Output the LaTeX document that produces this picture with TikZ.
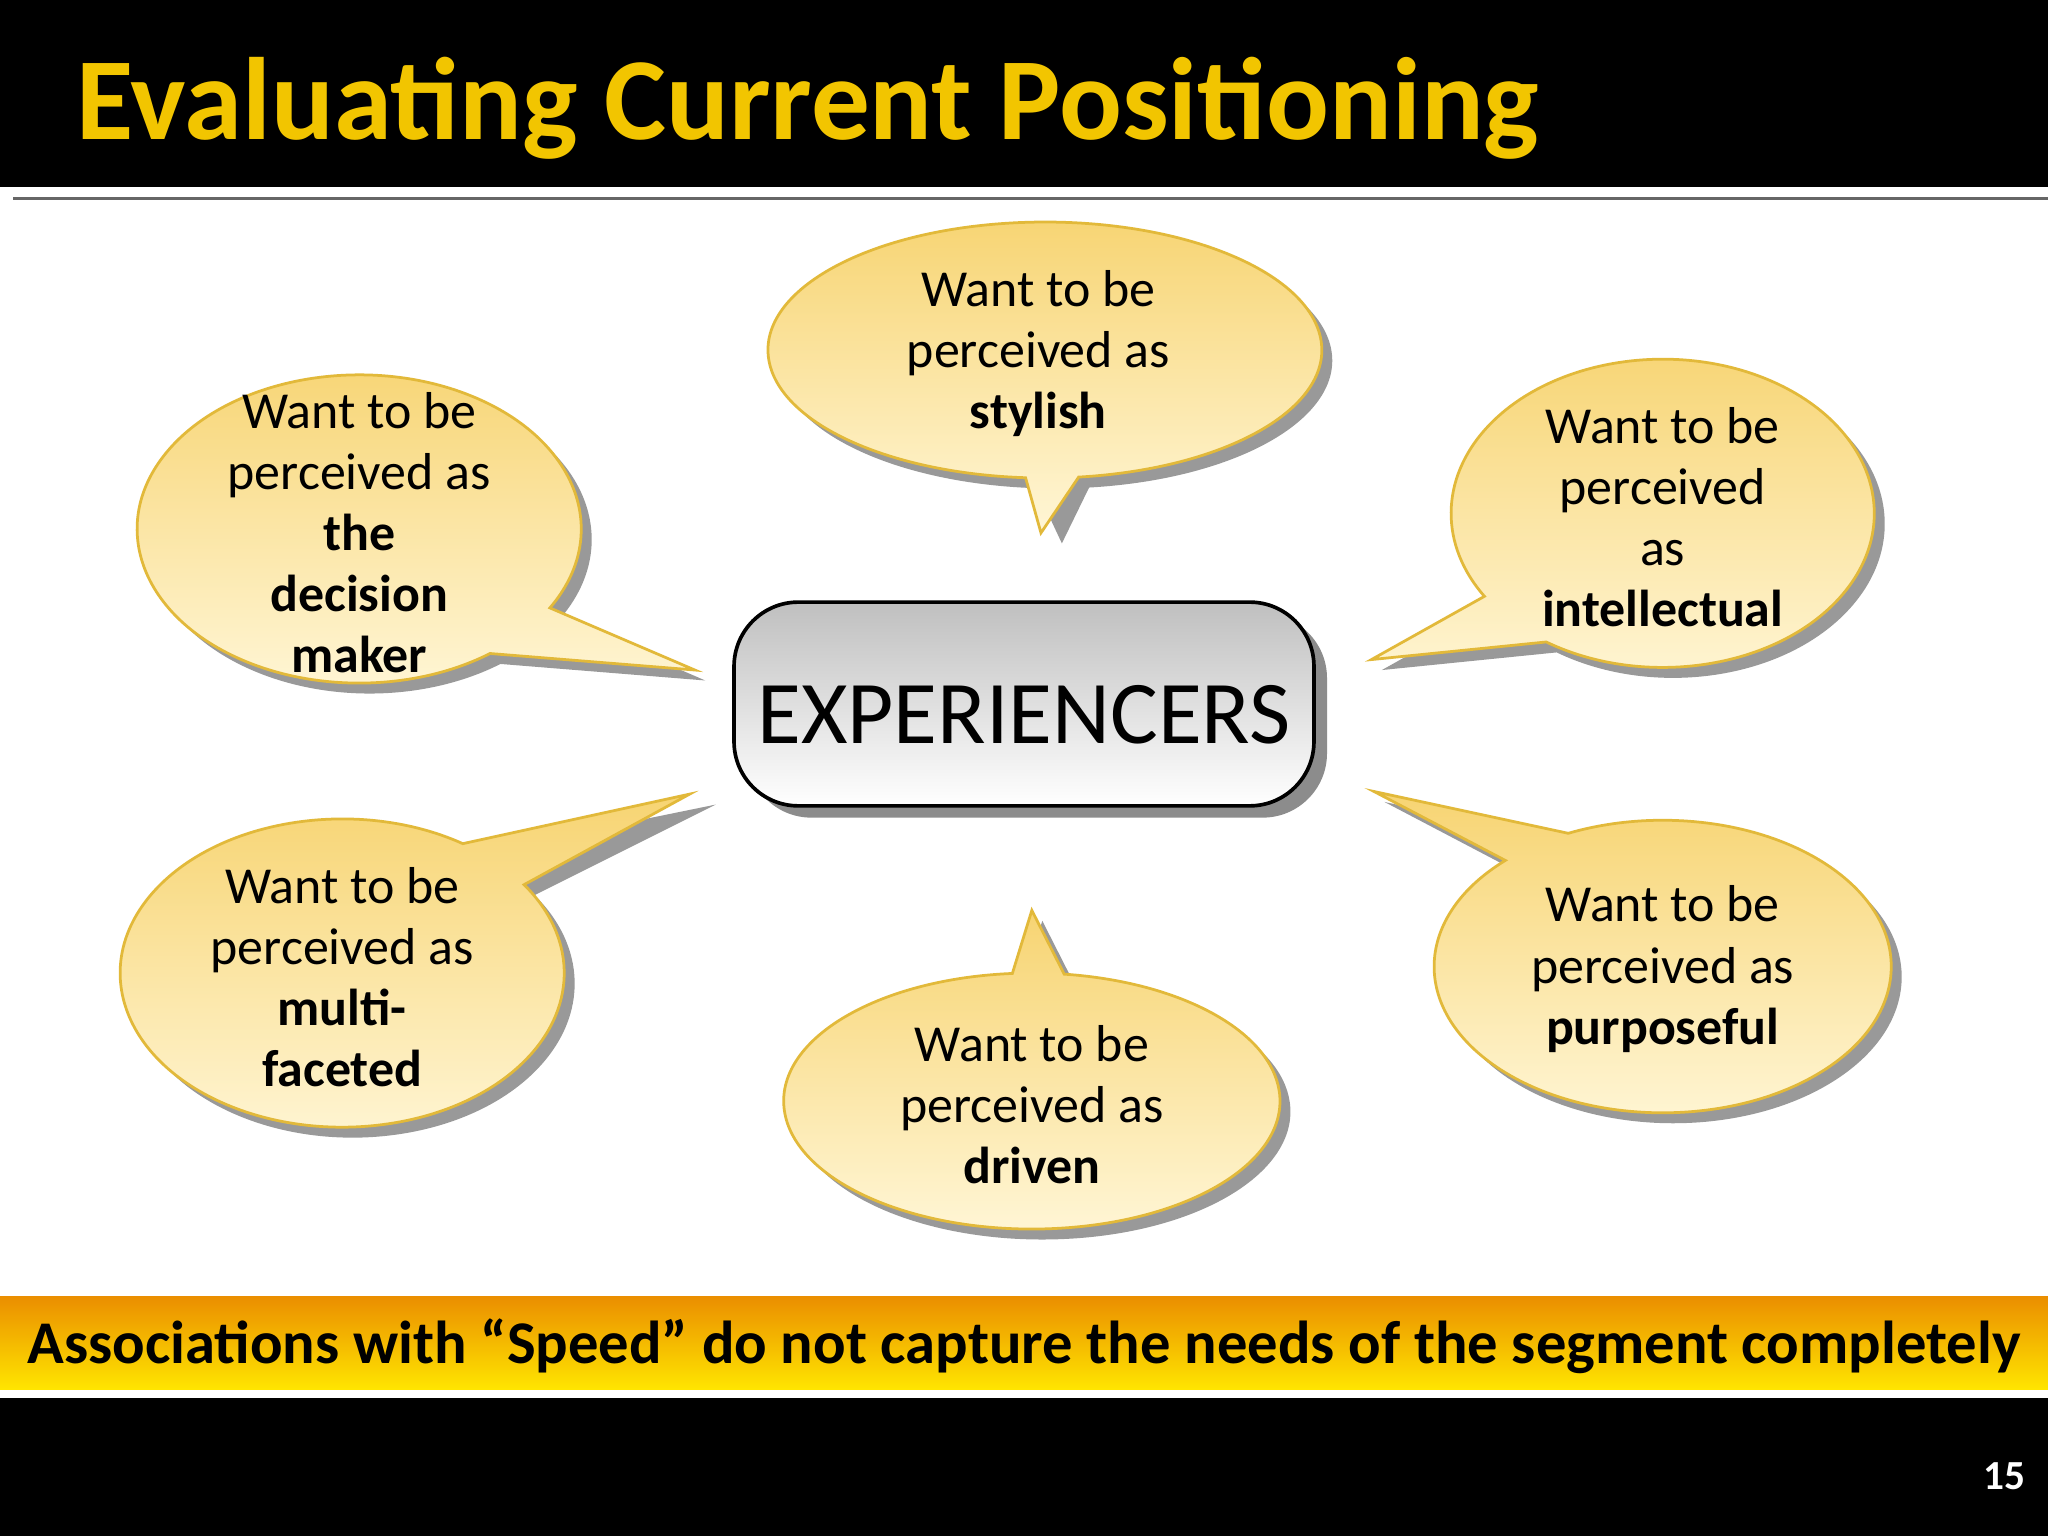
\documentclass[tikz,border=0pt]{standalone}
\usepackage{fontspec}
\setmainfont{Carlito}
\begin{document}
\begin{tikzpicture}[x=0.01cm,y=-0.01cm,
  bub/.style={top color=bubtop,bottom color=bubbot,draw=bubline,line width=0.6pt},
  shad/.style={fill=black!40,xshift=0.08cm,yshift=-0.08cm},
  btxt/.style={align=center,font=\fontsize{11.3}{13.3}\selectfont,inner sep=0pt}]
\definecolor{bubtop}{HTML}{F7D472}
\definecolor{bubbot}{HTML}{FFF6D6}
\definecolor{bubline}{HTML}{E2B93A}
\definecolor{titleyel}{HTML}{F2C500}
\useasboundingbox (0,0) rectangle (1568,1176);
\fill[white] (0,0) rectangle (1568,1176);
\fill[black] (0,0) rectangle (1568,143);
\node[font=\fontsize{25.5}{28}\selectfont\bfseries,text=titleyel,anchor=west,inner sep=0pt] (title) at (58,83) {Evaluating Current Positioning};
\draw[black!60,line width=0.8pt] (10,152) -- (1568,152);
% 1 top
\fill[shad] (800,268) ++(277:212 and -98) arc[start angle=277,end angle=626,x radius=212,y radius=-98] -- (805,408) -- cycle;
\path[bub] (800,268) ++(277:212 and -98) arc[start angle=277,end angle=626,x radius=212,y radius=-98] -- (797,408) -- cycle;
% 2 upper left
\fill[shad] (275,405) ++(-30.8:170 and -118) arc[start angle=-30.8,end angle=306.1,x radius=170,y radius=-118] -- (532,513) -- cycle;
\path[bub] (275,405) ++(-30.8:170 and -118) arc[start angle=-30.8,end angle=306.1,x radius=170,y radius=-118] -- (532,513) -- cycle;
% 3 upper right
\fill[shad] (1273,393) ++(236.6:162 and -118) arc[start angle=236.6,end angle=572.6,x radius=162,y radius=-118] -- (1050,505) -- cycle;
\path[bub] (1273,393) ++(236.6:162 and -118) arc[start angle=236.6,end angle=572.6,x radius=162,y radius=-118] -- (1050,505) -- cycle;
% 4 lower left
\fill[shad] (262,745) ++(57.1:170 and -118) arc[start angle=57.1,end angle=395,x radius=170,y radius=-118] -- (540,608) -- cycle;
\path[bub] (262,745) ++(57.1:170 and -118) arc[start angle=57.1,end angle=395,x radius=170,y radius=-118] -- (528,608) -- cycle;
% 5 bottom
\fill[shad] (790,843) ++(94.5:190 and -98) arc[start angle=94.5,end angle=442.5,x radius=190,y radius=-98] -- (790,697) -- cycle;
\path[bub] (790,843) ++(94.5:190 and -98) arc[start angle=94.5,end angle=442.5,x radius=190,y radius=-98] -- (790,697) -- cycle;
% 6 lower right
\fill[shad] (1273,740) ++(133.5:175 and -112) arc[start angle=133.5,end angle=474.4,x radius=175,y radius=-112] -- (1052,606) -- cycle;
\path[bub] (1273,740) ++(133.5:175 and -112) arc[start angle=133.5,end angle=474.4,x radius=175,y radius=-112] -- (1052,606) -- cycle;
% center box
\fill[black!45,rounded corners=14] (572,470) rectangle (1016,626);
\shade[top color=black!25,bottom color=white,draw=black,line width=0.8pt,rounded corners=14] (562,461) rectangle (1006,617);
\node[font=\fontsize{19.5}{22}\selectfont,inner sep=0pt] (exp) at (784,547) {EXPERIENCERS};
% texts
\node[btxt] (t1) at (795,271) {Want to be\\perceived as\\\textbf{stylish}};
\node[btxt] (t2) at (275,408) {Want to be\\perceived as\\\textbf{the}\\\textbf{decision}\\\textbf{maker}};
\node[btxt] (t3) at (1273,396) {Want to be\\perceived\\as\\\textbf{intellectual}};
\node[btxt] (t4) at (262,748) {Want to be\\perceived as\\\textbf{multi-}\\\textbf{faceted}};
\node[btxt] (t5) at (790,846) {Want to be\\perceived as\\\textbf{driven}};
\node[btxt] (t6) at (1273,742) {Want to be\\perceived as\\\textbf{purposeful}};
% banner
\shade[top color=black!10!orange!80!yellow,bottom color=yellow!80!orange] (0,993) rectangle (1568,1064);
\node[font=\fontsize{13.2}{15}\selectfont\bfseries,inner sep=0pt] (ban) at (784,1031) {Associations with “Speed” do not capture the needs of the segment completely};
\fill[black] (0,1070) rectangle (1568,1176);
\node[font=\fontsize{9}{10}\selectfont\bfseries,text=white,inner sep=0pt] (pg) at (1535,1130) {15};
\end{tikzpicture}
\end{document}
